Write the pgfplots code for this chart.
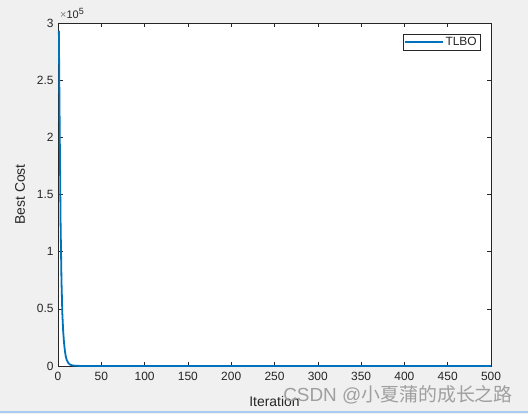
\documentclass[border=0pt]{standalone}
\usepackage{fontspec}
\setmainfont{Liberation Sans}
\newfontfamily\cjk{Noto Sans CJK SC}
\usepackage{pgfplots}
\pgfplotsset{compat=1.18}
\definecolor{mblue}{HTML}{0072BD}
\definecolor{axgray}{HTML}{262626}
\definecolor{figbg}{HTML}{F0F0F0}
\definecolor{barblue}{HTML}{A8CCF0}

\begin{document}
\begin{tikzpicture}[x=1bp,y=1bp]
\path[use as bounding box, fill=figbg] (0,0) rectangle (528,414);
\draw[barblue, line width=2bp] (0,2.5) -- (528,2.5);
\begin{axis}[
  at={(58bp,48bp)}, anchor=south west,
  width=433bp, height=343bp, scale only axis,
  xmin=0, xmax=500, ymin=0, ymax=300000,
  xtick={0,50,...,500},
  ytick={0,50000,...,300000},
  yticklabels={0,0.5,1,1.5,2,2.5,3},
  scaled y ticks=false,
  axis background/.style={fill=white},
  axis line style={axgray, line width=0.6bp},
  tick align=inside,
  major tick length=4.5bp,
  tick style={axgray, line width=0.5bp},
  tick label style={font=\fontsize{12}{14}\selectfont, text=axgray},
  xticklabel style={yshift=-3bp},
  yticklabel style={xshift=-1bp},
  /pgf/number format/assume math mode=true,
  xlabel={Iteration},
  ylabel={Best Cost},
  label style={font=\fontsize{14}{16}\selectfont, text=axgray},
  xlabel style={at={(axis description cs:0.5,0)}, anchor=center, yshift=-36bp},
  ylabel style={at={(axis description cs:0,0.5)}, anchor=center, yshift=38bp},
  legend style={at={(1,1)}, xshift=-11bp, yshift=-11bp, anchor=north east,
    draw=axgray, line width=0.5bp, font=\fontsize{12}{14}\selectfont,
    inner sep=1bp, text=axgray},
  legend cell align=left,
  legend image code/.code={\draw[#1] (0bp,0bp) -- (38bp,0bp);},
  clip=false,
]
\addplot[mblue, line width=1.8bp] coordinates {
  (1,293000) (2,205000) (3,125000) (4,75000) (5,46000) (6,30000)
  (7,20000) (8,13000) (9,8500) (10,5500) (12,2500) (14,1200)
  (17,500) (20,200) (25,80) (30,30) (40,10) (50,5) (100,1) (500,0)
};
\addlegendentry{TLBO}
\end{axis}
\node[anchor=base west, inner sep=0pt, font=\fontsize{11}{13}\selectfont, text=axgray]
  at (60,395) {\textcolor{gray}{×}10\raisebox{4bp}{\fontsize{9}{10}\selectfont 5}};
\node[anchor=east, inner sep=0pt, font=\fontsize{19}{21}\selectfont, text=gray!75]
  at (513,19) {CSDN @{\cjk 小夏蒲的成长之路}};
\end{tikzpicture}
\end{document}
